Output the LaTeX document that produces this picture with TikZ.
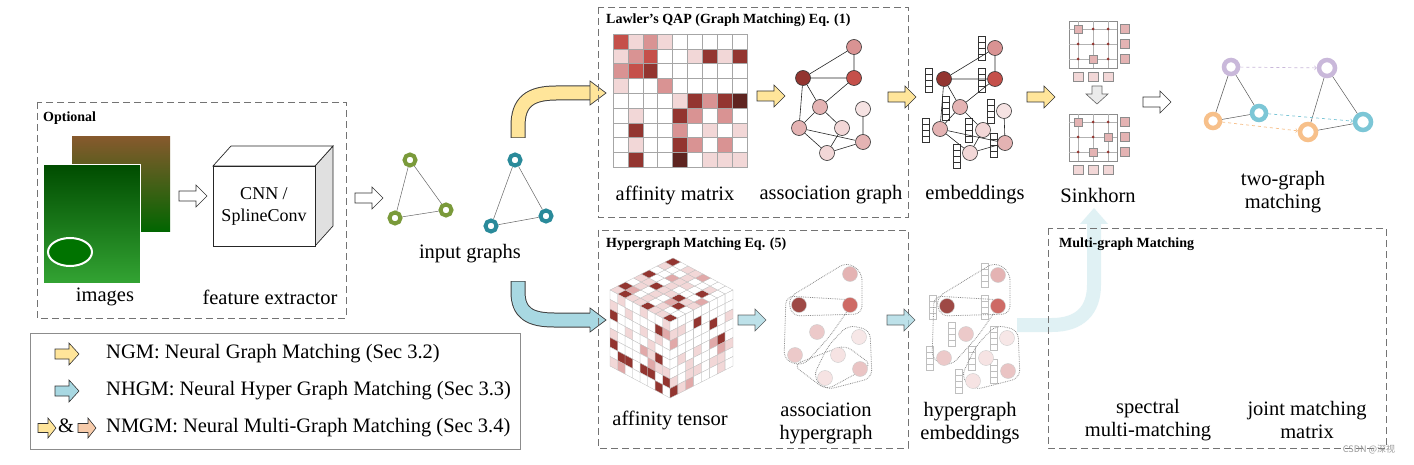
\documentclass[tikz,border=0pt]{standalone}
\usepackage{fontspec}
\setmainfont{Liberation Serif}
\newfontfamily\cjk{Noto Sans CJK SC}
\usetikzlibrary{calc}
\definecolor{lv0}{HTML}{FFFFFF}
\definecolor{lv1}{HTML}{F2D7D7}
\definecolor{lv2}{HTML}{D99393}
\definecolor{lv3}{HTML}{C5504A}
\definecolor{lv4}{HTML}{933530}
\definecolor{lv5}{HTML}{5E2420}
\definecolor{yel}{HTML}{FFE59A}
\definecolor{blu}{HTML}{A8D8E2}
\definecolor{pea}{HTML}{F7CBAA}
\definecolor{gGreen}{HTML}{7A9A3A}
\definecolor{gTeal}{HTML}{2A8A9A}
\definecolor{gPur}{HTML}{C9B8DA}
\definecolor{gBlu}{HTML}{7CC6D6}
\definecolor{gOra}{HTML}{F7C08A}
\tikzset{
 dbox/.style={draw=black!55, dashed, dash pattern=on 7pt off 4pt, line width=0.9pt},
 ttl/.style={font=\bfseries\fontsize{14}{16}\selectfont, anchor=west, inner sep=0},
 lbl/.style={font=\fontsize{20.5}{23}\selectfont, align=center, inner sep=0},
 gnode/.style={circle, draw=black!80, line width=0.6pt, minimum size=15pt, inner sep=0},
 ring/.style={circle, draw=#1, line width=4.5pt, minimum size=14pt, inner sep=0, fill=white},
 hnode/.style={circle, draw=black!20, line width=0.4pt, minimum size=15pt, inner sep=0},
 hull/.style={draw=black!45, densely dotted, line width=0.8pt, rounded corners=8pt},
 pics/barr/.style={code={\draw[fill=#1, draw=black!80, line width=0.6pt] (0,-5)--(17,-5)--(17,-11)--(28,0)--(17,11)--(17,5)--(0,5)--cycle;}},
 pics/sarr/.style={code={\draw[fill=#1, draw=black!80, line width=0.6pt] (0,-5)--(14,-5)--(14,-11)--(24,0)--(14,11)--(14,5)--(0,5)--cycle;}},
 pics/tarr/.style={code={\draw[fill=#1, draw=black!80, line width=0.6pt] (0,-4.5)--(10,-4.5)--(10,-10)--(18,0)--(10,10)--(10,4.5)--(0,4.5)--cycle;}},
}
\newcommand\bars[2]{\foreach \q in {0,1,2,3}{\draw[black!80, fill=white, line width=0.5pt] (#1-3.5,#2-12+\q*6) rectangle ++(7,6);}}
\newcommand\fbars[2]{\foreach \q in {0,1,2,3}{\draw[black!25, fill=white, line width=0.4pt] (#1-3.5,#2-12+\q*6) rectangle ++(7,6);}}
\begin{document}
\begin{tikzpicture}[x=1pt,y=-1pt]
\useasboundingbox (0,0) rectangle (1414,465);
\fill[white] (0,0) rectangle (1414,465);

% ---------- Optional box ----------
\draw[dbox] (37,102) rectangle (346,318);
\node[ttl] (optT) at (43,118) {Optional};
\shade[top color=brown!70!black, bottom color=green!40!black] (72,137) rectangle (170,232);
\node[inner sep=0, minimum width=97pt, minimum height=118pt, shading=axis, top color=green!30!black, bottom color=green!55!black!80, draw=white, line width=1pt] (img) at (91.5,224) {};
\draw[white, fill=green!45!black, line width=2pt] (70,252) ellipse (22 and 14);
\node[lbl] (imgL) at (105,297) {images};
\pic at (179,196) {barr=white};
% cube
\draw[black!85, fill=black!12, line width=0.7pt] (315,166) -- (333,146) -- (333,226) -- (315,246) -- cycle;
\draw[black!85, fill=white, line width=0.7pt] (213,166) -- (231,146) -- (333,146) -- (315,166) -- cycle;
\node[draw=black!85, fill=white, line width=0.7pt, minimum width=102pt, minimum height=80pt, lbl, font=\fontsize{18}{22}\selectfont] (cnn) at (264,206) {CNN /\\SplineConv};
\node[lbl] (featL) at (270,297) {feature extractor};
\pic at (355,198) {barr=white};

% ---------- input graphs ----------
\node[ring=gGreen, minimum size=11pt, line width=4pt] (g1) at (410,160) {};
\node[ring=gGreen, minimum size=11pt, line width=4pt] (g2) at (395,218) {};
\node[ring=gGreen, minimum size=11pt, line width=4pt] (g3) at (446,210) {};
\node[ring=gTeal, minimum size=11pt, line width=4pt] (t1) at (515,160) {};
\node[ring=gTeal, minimum size=11pt, line width=4pt] (t2) at (491,226) {};
\node[ring=gTeal, minimum size=11pt, line width=4pt] (t3) at (546,216) {};
\draw[black!60, line width=0.5pt] (g1)--(g2) (g2)--(g3) (g3)--(g1) (t1)--(t2) (t2)--(t3) (t3)--(t1);
\node[lbl] (inL) at (470,254) {input graphs};

% ---------- curved arrows ----------
\draw[line width=15pt, black!75] (518,138) -- (518,126) .. controls (518,102) and (530,93) .. (556,93) -- (591,93);
\draw[line width=13pt, yel] (518,137.5) -- (518,126) .. controls (518,102) and (530,93) .. (556,93) -- (591.5,93);
\draw[fill=yel, draw=black!75, line width=0.7pt] (590,100) -- (590,81) -- (606,93) -- (590,105) -- (590,100);
\draw[line width=15pt, black!75] (518,281) -- (518,292) .. controls (518,313) and (530,320) .. (554,320) -- (591,320);
\draw[line width=13pt, blu] (518,281.5) -- (518,292) .. controls (518,313) and (530,320) .. (554,320) -- (591.5,320);
\draw[fill=blu, draw=black!75, line width=0.7pt] (590,313) -- (590,308) -- (606,320) -- (590,332) -- (590,327);

% ---------- Lawler box ----------
\draw[dbox] (598,7) rectangle (908,217);
\node[ttl] (lawT) at (606,20) {Lawler's QAP (Graph Matching) Eq. (1)};
\foreach \row [count=\r from 0] in {{3,1,2,1,0,0,0,0,0},{1,2,3,0,0,1,4,1,4},{2,3,4,0,0,0,0,0,0},{1,0,0,2,0,0,0,0,0},{0,0,0,0,1,4,2,4,5},{0,1,0,0,4,2,0,2,0},{0,4,0,0,2,0,1,0,1},{0,1,0,0,4,2,0,2,0},{0,4,0,0,5,0,1,1,1}}{
 \foreach \v [count=\c from 0] in \row {
  \filldraw[fill=lv\v, draw=black!35, line width=0.5pt] (613+\c*14.9,34+\r*14.8) rectangle ++(14.9,14.8);
 }}
\node[lbl] (affL) at (675,195) {affinity matrix};
\pic at (757,96) {barr=yel};
\node[gnode, fill=lv2] (a1) at (854,47) {};
\node[gnode, fill=lv3] (a2) at (854,78) {};
\node[gnode, fill=lv4] (a3) at (803,78) {};
\node[gnode, fill=lv2!70] (a4) at (820,107) {};
\node[gnode, fill=lv1!70] (a5) at (863,109) {};
\node[gnode, fill=lv2!70] (a6) at (799,128) {};
\node[gnode, fill=lv1] (a7) at (842,128) {};
\node[gnode, fill=lv2!70] (a8) at (863,142) {};
\node[gnode, fill=lv1] (a9) at (827,153) {};
\draw[black!85, line width=0.6pt] (a1)--(a2) (a3)--(a1) (a3)--(a2) (a3)--(a6) (a2)--(a4) (a4)--(a6) (a4)--(a7) (a6)--(a8) (a6)--(a9) (a7)--(a9) (a5)--(a8) (a9)--(a8) (a3)--(a4);
\node[lbl] (assL) at (831,195) {association graph};
\pic at (888,97) {barr=yel};

% ---------- embeddings ----------
\bars{982}{48}\bars{982}{80}\bars{929}{80}\bars{946}{108}\bars{991}{111}\bars{926}{130}\bars{969}{130}\bars{994}{145}\bars{957}{156}
\node[gnode, fill=lv2] (e1) at (995,48) {};
\node[gnode, fill=lv3] (e2) at (995,79) {};
\node[gnode, fill=lv4] (e3) at (944,79) {};
\node[gnode, fill=lv2!70] (e4) at (960,107) {};
\node[gnode, fill=lv1!70] (e5) at (1004,111) {};
\node[gnode, fill=lv2!70] (e6) at (940,129) {};
\node[gnode, fill=lv1] (e7) at (983,130) {};
\node[gnode, fill=lv2!70] (e8) at (1005,143) {};
\node[gnode, fill=lv1] (e9) at (970,153) {};
\draw[black!85, line width=0.6pt] (e1)--(e2) (e3)--(e1) (e3)--(e2) (e3)--(e6) (e2)--(e4) (e4)--(e6) (e4)--(e7) (e6)--(e8) (e6)--(e9) (e7)--(e9) (e5)--(e8) (e9)--(e8) (e3)--(e4);
\node[lbl] (embL) at (975,195) {embeddings};
\pic at (1027,97) {barr=yel};

% ---------- Sinkhorn ----------
\foreach \oy/\sz in {21/{{3,1,1},{0,0,2},{0,3,0}}, 114/{{3,0,0},{0,0,3},{0,3,0}}}{
 \draw[black!45, fill=white, line width=0.6pt] (1069,\oy) rectangle (1117,\oy+47);
 \foreach \k in {0,1,2}{
  \draw[black!30, line width=0.4pt] (1069,\oy+8+\k*15) -- (1117,\oy+8+\k*15);
  \draw[black!30, line width=0.4pt] (1078+\k*15,\oy) -- (1078+\k*15,\oy+47);
  \filldraw[fill=lv2!70, draw=black!45, line width=0.4pt] (1120,\oy+3+\k*15) rectangle ++(9,9);
  \filldraw[fill=lv1, draw=black!45, line width=0.4pt] (1073+\k*15,\oy+51) rectangle ++(10,9);
 }
 \foreach \rw [count=\r from 0] in \sz {\foreach \s [count=\c from 0] in \rw {
   \ifnum\s=3 \filldraw[fill=lv2!70, draw=black!45, line width=0.4pt] (1078+\c*15-4,\oy+8+\r*15-4) rectangle ++(8,8);
   \else \fill[lv4] (1078+\c*15,\oy+8+\r*15) circle (1.5);\fi
 }}
}
\draw[fill=black!8, draw=black!60, line width=0.6pt] (1092,86)--(1102,86)--(1102,94)--(1108,94)--(1097,104)--(1086,94)--(1092,94)--cycle;
\node[lbl] (sinkL) at (1098,195) {Sinkhorn};
\pic at (1143,102) {barr=white};

% ---------- two-graph matching ----------
\node[ring=gPur] (p1) at (1231,67) {};
\node[ring=gPur, minimum size=16pt] (p2) at (1327,68) {};
\node[ring=gBlu] (b1) at (1259,113) {};
\node[ring=gBlu, minimum size=16pt] (b2) at (1363,122) {};
\node[ring=gOra] (o1) at (1213,121) {};
\node[ring=gOra, minimum size=16pt] (o2) at (1308,132) {};
\draw[black!65, line width=0.5pt] (p1)--(o1) (p1)--(b1) (o1)--(b1) (p2)--(o2) (p2)--(b2) (o2)--(b2);
\draw[gPur, dashed, line width=0.7pt, ->] (p1)--(p2);
\draw[gBlu, dashed, line width=0.7pt, ->] (b1)--(b2);
\draw[gOra, dashed, line width=0.7pt, ->] (o1)--(o2);
\node[lbl] (twoL) at (1283,192) {two-graph\\matching};

% ---------- Hypergraph box ----------
\draw[dbox] (598,230) rectangle (908,448);
\node[ttl] (hypT) at (606,244) {Hypergraph Matching Eq. (5)};
\foreach \ux/\uy/\vx/\vy/\fc in {-7.5/-4/7.875/-4/0, -7.5/-4/0/9.5/3, 7.875/-4/0/9.5/5}{
 \foreach \i in {0,...,7}{\foreach \j in {0,...,7}{
  \pgfmathtruncatemacro\k{mod(\i*\i*3+\j*7+\i*\j*5+\fc,9)}
  \ifnum\k=0 \def\cc{lv4}\else\ifnum\k=1 \def\cc{lv2!80}\else\ifnum\k<4 \def\cc{lv1}\else\def\cc{white}\fi\fi\fi
  \filldraw[fill=\cc, draw=black!25, line width=0.3pt] (670+\i*\ux+\j*\vx,322+\i*\uy+\j*\vy) -- ++(\ux,\uy) -- ++(\vx,\vy) -- ++(-\ux,-\uy) -- cycle;
 }}}
\node[lbl] (tenL) at (670,420) {affinity tensor};
\pic[opacity=0.75] at (738,320) {barr=blu};
\draw[hull] (788,298) -- (847,262) -- (862,272) -- (862,314) -- (792,316) -- cycle;
\draw[hull] (786,296) -- (855,300) -- (830,336) -- (803,366) -- (784,360) -- cycle;
\draw[hull] (848,325) -- (870,330) -- (872,378) -- (826,390) -- (813,377) -- (828,346) -- cycle;
\draw[hull] (793,365) -- (845,345) -- (872,365) -- (826,390) -- cycle;
\node[hnode, fill=lv2!70] (h1) at (850,274) {};
\node[hnode, fill=lv3!85] (h2) at (850,305) {};
\node[hnode, fill=lv4!90] (h3) at (799,305) {};
\node[hnode, fill=lv2!50] (h4) at (817,332) {};
\node[hnode, fill=lv1!60] (h5) at (859,337) {};
\node[hnode, fill=lv2!50] (h6) at (795,355) {};
\node[hnode, fill=lv1!70] (h7) at (838,355) {};
\node[hnode, fill=lv2!55] (h8) at (860,369) {};
\node[hnode, fill=lv1!70] (h9) at (825,378) {};
\node[lbl] (ahL) at (826,423) {association\\hypergraph};
\pic[opacity=0.75] at (887,320) {barr=blu};
\fbars{985}{275}\fbars{985}{307}\fbars{933}{307}\fbars{952}{334}\fbars{994}{338}\fbars{930}{358}\fbars{972}{358}\fbars{994}{371}\fbars{959}{381}
\draw[hull] (936,298) -- (995,262) -- (1010,272) -- (1010,314) -- (940,316) -- cycle;
\draw[hull] (934,296) -- (1003,300) -- (978,336) -- (951,366) -- (932,360) -- cycle;
\draw[hull] (996,325) -- (1018,330) -- (1020,378) -- (974,390) -- (961,377) -- (976,346) -- cycle;
\node[hnode, fill=lv2!70] (k1) at (998,275) {};
\node[hnode, fill=lv3!85] (k2) at (998,306) {};
\node[hnode, fill=lv4!90] (k3) at (947,306) {};
\node[hnode, fill=lv2!50] (k4) at (966,334) {};
\node[hnode, fill=lv1!60] (k5) at (1007,338) {};
\node[hnode, fill=lv2!50] (k6) at (944,358) {};
\node[hnode, fill=lv1!70] (k7) at (986,358) {};
\node[hnode, fill=lv2!55] (k8) at (1008,371) {};
\node[hnode, fill=lv1!70] (k9) at (973,381) {};
\node[lbl] (heL) at (970,423) {hypergraph\\embeddings};

% ---------- Multi-graph box ----------
\begin{scope}[opacity=0.35]
\draw[line width=14pt, blu] (1017,325) -- (1052,325) .. controls (1080,325) and (1094,310) .. (1094,285) -- (1094,224);
\fill[blu] (1080,224) -- (1094,208) -- (1108,224) -- cycle;
\end{scope}
\draw[dbox] (1048,228) rectangle (1386,448);
\node[ttl] (mgT) at (1059,244) {Multi-graph Matching};
\node[lbl] (specL) at (1148,420) {spectral\\multi-matching};
\node[lbl] (jointL) at (1307,420) {joint matching\\matrix};
\node[font=\cjk\fontsize{9}{10}\selectfont, text=black!40, inner sep=0] (wm) at (1369,450) {CSDN @深视};

% ---------- Legend ----------
\draw[black!45, line width=0.8pt] (30,333) rectangle (520,449);
\pic at (55,354) {sarr=yel};
\node[lbl, anchor=west] (l1) at (106,354) {NGM: Neural Graph Matching (Sec 3.2)};
\pic at (55,391) {sarr=blu};
\node[lbl, anchor=west] (l2) at (106,391) {NHGM: Neural Hyper Graph Matching (Sec 3.3)};
\pic at (38,428) {tarr=yel};
\node[lbl, anchor=west] (amp) at (58,426) {\&};
\pic at (78,428) {tarr=pea};
\node[lbl, anchor=west] (l3) at (106,428) {NMGM: Neural Multi-Graph Matching (Sec 3.4)};
\end{tikzpicture}
\end{document}
